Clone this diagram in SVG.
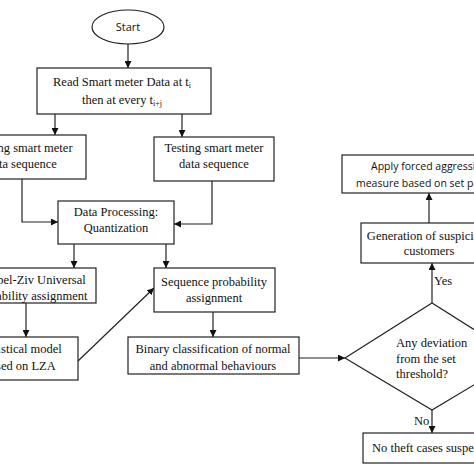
<svg xmlns="http://www.w3.org/2000/svg" width="474" height="474" viewBox="0 0 474 474">
<defs>
<marker id="ah" viewBox="0 0 10 10" refX="10" refY="5" markerWidth="7" markerHeight="7" orient="auto" markerUnits="userSpaceOnUse">
<path d="M0,0 L10,5 L0,10 Z" fill="#111"/>
</marker>
<style>
.b{fill:#fff;stroke:#222;stroke-width:1.2}
.t{font-family:'Liberation Serif',serif;font-size:12.5px;fill:#111;text-anchor:middle}
.s{font-family:'Open Sans','Liberation Sans',sans-serif;font-size:10.5px;fill:#111;text-anchor:middle}
.l{fill:none;stroke:#222;stroke-width:1.2}
</style>
</defs>
<rect width="474" height="474" fill="#fff"/>
<g id="connectors">
<path class="l" d="M128,44 V68" marker-end="url(#ah)"/>
<path class="l" d="M55,114 V135" marker-end="url(#ah)"/>
<path class="l" d="M182,114 V137" marker-end="url(#ah)"/>
<path class="l" d="M22,179 V222 H58" marker-end="url(#ah)"/>
<path class="l" d="M212,181 V224 H174" marker-end="url(#ah)"/>
<path class="l" d="M74,244 V268" marker-end="url(#ah)"/>
<path class="l" d="M166,244 V268" marker-end="url(#ah)"/>
<path class="l" d="M26,303 V337" marker-end="url(#ah)"/>
<path class="l" d="M78,361 L154,288" marker-end="url(#ah)"/>
<path class="l" d="M213,312 V337" marker-end="url(#ah)"/>
<path class="l" d="M299,358 H345" marker-end="url(#ah)"/>
<path class="l" d="M432,303 V263" marker-end="url(#ah)"/>
<path class="l" d="M429,223 V193" marker-end="url(#ah)"/>
<path class="l" d="M432,410 V433" marker-end="url(#ah)"/>
<text class="t" x="434" y="285" style="text-anchor:start">Yes</text>
<text class="t" x="414" y="425" style="text-anchor:start">No</text>
</g>
<g id="start">
<ellipse class="b" cx="128" cy="27" rx="36" ry="17"/>
<text class="s" x="128" y="31" style="font-size:11px">Start</text>
</g>
<g id="read">
<rect class="b" x="37" y="68" width="174" height="46"/>
<text class="t" x="122" y="86">Read Smart meter Data at t<tspan font-size="8" dy="2">i</tspan></text>
<text class="t" x="122" y="104">then at every t<tspan font-size="8" dy="2">i+j</tspan></text>
</g>
<g id="training">
<rect class="b" x="-40" y="135" width="126" height="44"/>
<text class="t" x="20" y="152">Training smart meter</text>
<text class="t" x="22" y="168">data sequence</text>
</g>
<g id="testing">
<rect class="b" x="154" y="137" width="120" height="44"/>
<text class="t" x="214" y="152">Testing smart meter</text>
<text class="t" x="214" y="168">data sequence</text>
</g>
<g id="processing">
<rect class="b" x="58" y="201" width="116" height="43"/>
<text class="t" x="116" y="216">Data Processing:</text>
<text class="t" x="116" y="232">Quantization</text>
</g>
<g id="lempel">
<rect class="b" x="-40" y="268" width="136" height="35"/>
<text class="t" x="30" y="284">Lempel-Ziv Universal</text>
<text class="t" x="30" y="300">Probability assignment</text>
</g>
<g id="statistical">
<rect class="b" x="-40" y="337" width="118" height="43"/>
<text class="t" x="20" y="353">Statistical model</text>
<text class="t" x="20" y="370">based on LZA</text>
</g>
<g id="seqprob">
<rect class="b" x="154" y="268" width="121" height="44"/>
<text class="t" x="214" y="286">Sequence probability</text>
<text class="t" x="214" y="302">assignment</text>
</g>
<g id="binary">
<rect class="b" x="128" y="337" width="171" height="37"/>
<text class="t" x="213" y="353">Binary classification of normal</text>
<text class="t" x="213" y="370">and abnormal behaviours</text>
</g>
<g id="decision">
<polygon class="b" points="345,358 432,303 519,358 432,410"/>
<text class="t" x="396" y="347" style="text-anchor:start">Any deviation</text>
<text class="t" x="396" y="363" style="text-anchor:start">from the set</text>
<text class="t" x="396" y="378" style="text-anchor:start">threshold?</text>
</g>
<g id="generation">
<rect class="b" x="361" y="223" width="136" height="40"/>
<text class="t" x="429" y="240">Generation of suspicious</text>
<text class="t" x="429" y="255">customers</text>
</g>
<g id="apply">
<rect class="b" x="342" y="155" width="176" height="38"/>
<text class="s" x="371" y="170" style="text-anchor:start">Apply forced aggressive</text>
<text class="s" x="356" y="187" style="text-anchor:start">measure based on set parameters</text>
</g>
<g id="notheft">
<rect class="b" x="363" y="433" width="150" height="30"/>
<text class="t" x="372" y="452" style="text-anchor:start">No theft cases suspected</text>
</g>
</svg>
